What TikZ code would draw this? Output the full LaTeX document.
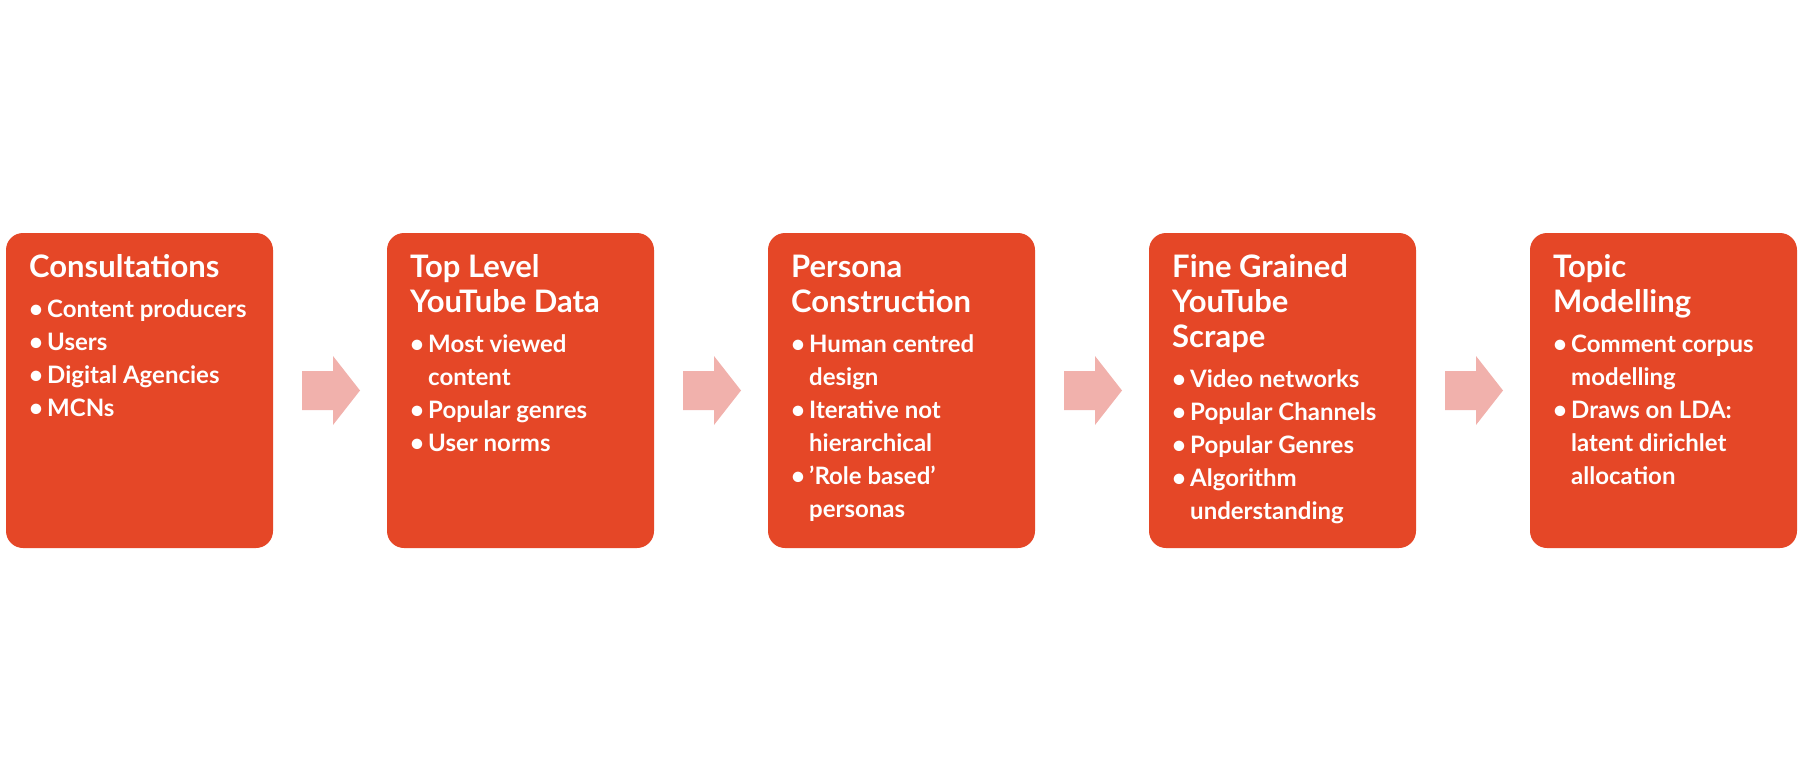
\documentclass[tikz,border=0pt]{standalone}
\usepackage{fontspec}
\setmainfont{Lato}
\definecolor{boxc}{HTML}{E54727}
\definecolor{arrc}{HTML}{F1B1AC}
\newcommand\Tl[3]{\node[tt] at ({#1+23},#2) {#3};}
\newcommand\Bl[3]{\node[bt] at ({#1+23},#2) {\textbullet};\node[bt] at ({#1+41},#2) {#3};}
\newcommand\Cl[3]{\node[bt] at ({#1+41},#2) {#3};}
\begin{document}
\begin{tikzpicture}[x=1pt,y=-1pt,
  stage/.style={fill=boxc,rounded corners=17pt},
  tt/.style={anchor=base west,inner sep=0pt,text=white,font=\fontsize{31}{35}\selectfont\bfseries},
  bt/.style={anchor=base west,inner sep=0pt,text=white,font=\fontsize{24}{33}\selectfont\bfseries},
  arr/.style={fill=arrc}]
\useasboundingbox (0,0) rectangle (1802,781);
\foreach \i/\x in {1/6,2/387,3/768,4/1149,5/1530}{
  \fill[stage] (\x,233) rectangle ({\x+267},548);
  \coordinate (b\i) at (\x,233);
}
\foreach \x in {272,653,1034,1415}{
  \fill[arr] ({\x+30},371) -- ({\x+61},371) -- ({\x+61},356) -- ({\x+88},390.5) -- ({\x+61},425) -- ({\x+61},410) -- ({\x+30},410) -- cycle;
}
% box 1
\Tl{6}{277}{Consultations}
\Bl{6}{317}{Content producers}
\Bl{6}{350}{Users}
\Bl{6}{383}{Digital Agencies}
\Bl{6}{416}{MCNs}
% box 2
\Tl{387}{277}{Top Level}
\Tl{387}{312}{YouTube Data}
\Bl{387}{352}{Most viewed}
\Cl{387}{385}{content}
\Bl{387}{418}{Popular genres}
\Bl{387}{451}{User norms}
% box 3
\Tl{768}{277}{Persona}
\Tl{768}{312}{Construction}
\Bl{768}{352}{Human centred}
\Cl{768}{385}{design}
\Bl{768}{418}{Iterative not}
\Cl{768}{451}{hierarchical}
\Bl{768}{484}{'Role based'}
\Cl{768}{517}{personas}
% box 4
\Tl{1149}{277}{Fine Grained}
\Tl{1149}{312}{YouTube}
\Tl{1149}{347}{Scrape}
\Bl{1149}{387}{Video networks}
\Bl{1149}{420}{Popular Channels}
\Bl{1149}{453}{Popular Genres}
\Bl{1149}{486}{Algorithm}
\Cl{1149}{519}{understanding}
% box 5
\Tl{1530}{277}{Topic}
\Tl{1530}{312}{Modelling}
\Bl{1530}{352}{Comment corpus}
\Cl{1530}{385}{modelling}
\Bl{1530}{418}{Draws on LDA:}
\Cl{1530}{451}{latent dirichlet}
\Cl{1530}{484}{allocation}
\end{tikzpicture}
\end{document}
